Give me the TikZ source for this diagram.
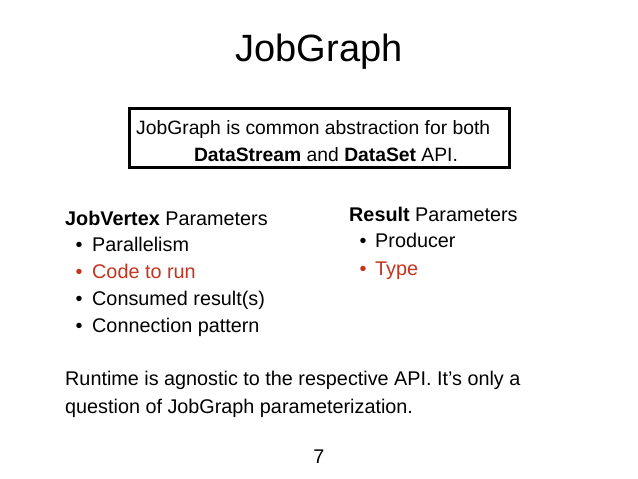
\documentclass[tikz,border=0pt]{standalone}
\usepackage{fontspec}
\setmainfont{Liberation Sans}
\definecolor{redtxt}{RGB}{196,52,30}
\begin{document}
\begin{tikzpicture}[x=1pt,y=-1pt,
  txt/.style={anchor=base west,inner sep=0pt,font=\fontsize{19.8}{22}\selectfont},
  bul/.style={anchor=base,inner sep=0pt,font=\fontsize{19.8}{22}\selectfont}]
\useasboundingbox[fill=white] (0,0) rectangle (638,479);
\node[anchor=base,inner sep=0pt,font=\fontsize{38}{42}\selectfont] (title) at (319,61) {JobGraph};
\draw[line width=3pt] (129,108) rectangle (509,167);
\node[txt,font=\fontsize{19.3}{22}\selectfont] (b1) at (136,134) {JobGraph is common abstraction for both};
\node[anchor=base,inner sep=0pt,font=\fontsize{19.3}{22}\selectfont] (b2) at (326,161) {\textbf{DataStream} and \textbf{DataSet} API.};
\node[txt] (lh) at (65,225) {\textbf{JobVertex} Parameters};
\foreach \y/\t/\c [count=\i] in {251/Parallelism/black,278/Code to run/redtxt,305/Consumed result(s)/black,332/Connection pattern/black}{
  \node[bul,text=\c] (lb\i) at (79,\y) {•};
  \node[txt,text=\c] (lt\i) at (92,\y) {\t};}
\node[txt] (rh) at (349,221) {\textbf{Result} Parameters};
\foreach \y/\t/\c [count=\i] in {247/Producer/black,275/Type/redtxt}{
  \node[bul,text=\c] (rb\i) at (363,\y) {•};
  \node[txt,text=\c] (rt\i) at (375,\y) {\t};}
\node[txt] (f1) at (65,385) {Runtime is agnostic to the respective API. It’s only a};
\node[txt] (f2) at (65,413) {question of JobGraph parameterization.};
\node[bul] (pg) at (319,463) {7};
\end{tikzpicture}
\end{document}
